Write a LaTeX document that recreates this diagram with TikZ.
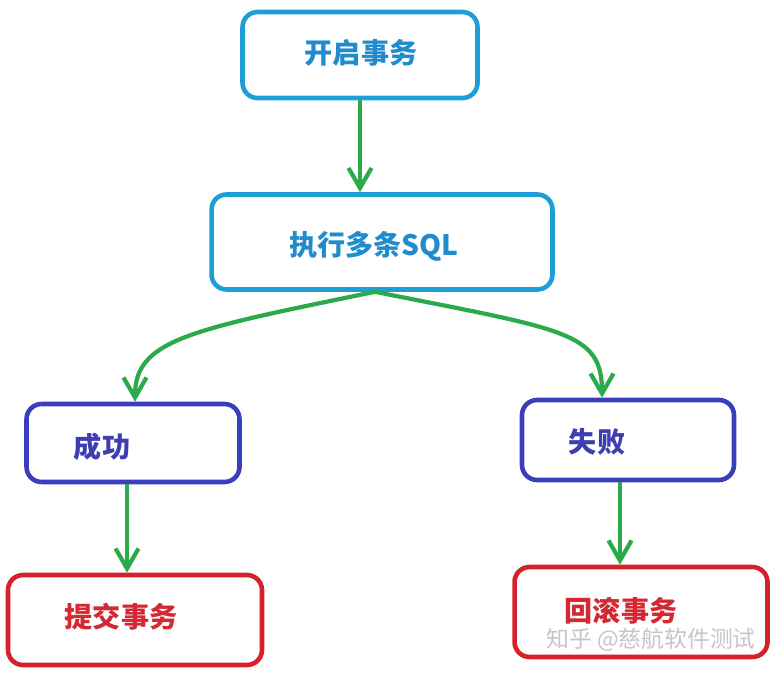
\documentclass[tikz,border=0pt]{standalone}
\usepackage{fontspec}
\newfontfamily\cjk{Noto Sans CJK SC}
\usetikzlibrary{arrows.meta}
\definecolor{startblue}{RGB}{30,158,215}
\definecolor{starttext}{RGB}{32,140,205}
\definecolor{midblue}{RGB}{58,62,188}
\definecolor{midtext}{RGB}{62,62,178}
\definecolor{endred}{RGB}{214,32,42}
\definecolor{endtext}{RGB}{212,40,50}
\definecolor{flowgreen}{RGB}{42,170,72}
\begin{document}
\begin{tikzpicture}[x=0.02cm,y=-0.02cm,
    box/.style={draw,line width=2.6pt,rounded corners=0.3cm,fill=white},
    lbl/.style={font=\cjk\bfseries\fontsize{16}{18}\selectfont},
    flow/.style={draw=flowgreen,line width=2.4pt,-{Straight Barb[length=0.4cm,width=0.46cm]}}]
        \useasboundingbox (0,0) rectangle (780,672);
        % boxes
        \node[box,draw=startblue,minimum width=4.7cm,minimum height=1.72cm] (start) at (360,55) {};
        \node[box,draw=startblue,minimum width=6.82cm,minimum height=1.9cm] (sql) at (382,242) {};
        \node[box,draw=midblue,minimum width=4.26cm,minimum height=1.56cm] (succ) at (133,443) {};
        \node[box,draw=midblue,minimum width=4.24cm,minimum height=1.6cm] (fail) at (628,440) {};
        \node[box,draw=endred,minimum width=5.08cm,minimum height=1.8cm] (commit) at (135,620) {};
        \node[box,draw=endred,minimum width=5.06cm,minimum height=1.8cm] (rollback) at (641,612) {};
        % labels
        \node[lbl,text=starttext] (startlbl) at (361,53) {开启事务};
        \node[lbl,text=starttext] (sqllbl) at (374,246) {执行多条SQL};
        \node[lbl,text=midtext] (succlbl) at (102,447) {成功};
        \node[lbl,text=midtext] (faillbl) at (597,442) {失败};
        \node[lbl,text=endtext] (commitlbl) at (121,617) {提交事务};
        \node[lbl,text=endtext] (rollbacklbl) at (621,611) {回滚事务};
        % arrows
        \draw[flow] (start.south) -- (start.south |- sql.north);
        \draw[flow] ([xshift=-0.14cm]sql.south) .. controls +(-185,38) and +(0,-62) .. ([xshift=0.04cm]succ.north);
        \draw[flow] ([xshift=-0.14cm]sql.south) .. controls +(190,38) and +(0,-66) .. ([xshift=-0.52cm]fail.north);
        \draw[flow] ([xshift=-0.12cm]succ.south) -- ([xshift=-0.12cm]succ.south |- commit.north);
        \draw[flow] ([xshift=-0.16cm]fail.south) -- ([xshift=-0.16cm]fail.south |- rollback.north);
        % watermark
        \node[font=\cjk\fontsize{13}{15}\selectfont,text=gray!45,inner sep=1pt] (mark) at (651,640) {知乎 @慈航软件测试};
\end{tikzpicture}
\end{document}
